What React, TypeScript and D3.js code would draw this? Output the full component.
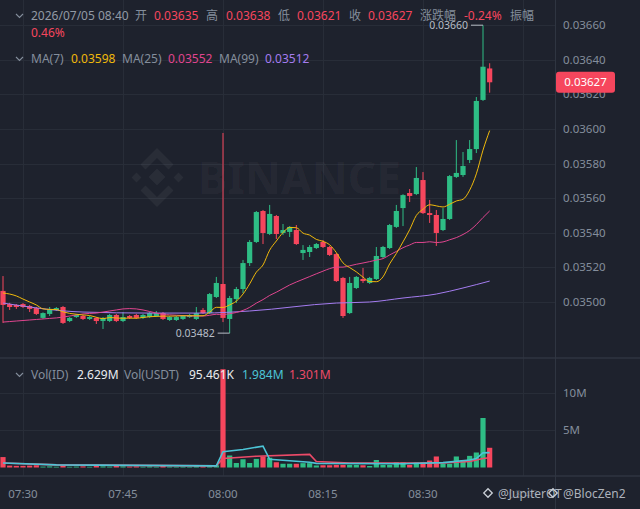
import React, { useEffect, useRef } from "react";
import * as d3 from "d3";

const W = 640;
const H = 509;
const BG = "#1e222d";
const GRID = "#282d38";
const SEP = "#2f3541";
const UP = "#2ebd85";
const DOWN = "#f6465d";
const LABEL = "#848e9c";
const FONT = "'Noto Sans', 'Noto Sans CJK SC', sans-serif";

// 1-minute candles, first one at 07:27
const firstCandle = "07:27";

const opens = [
  0.035064, 0.034988, 0.034983, 0.034988, 0.034977, 0.034965, 0.034908, 0.034931, 0.034954, 0.034971,
  0.03489, 0.034913, 0.034919, 0.034902, 0.034908, 0.03489, 0.03489, 0.034925, 0.03489, 0.034919,
  0.034925, 0.034908, 0.034913, 0.034919, 0.034936, 0.034896, 0.034896, 0.034902, 0.034913, 0.034902,
  0.034954, 0.034936, 0.035029, 0.035104, 0.034902, 0.035017, 0.035075, 0.035225, 0.035347, 0.035526,
  0.035393, 0.035497, 0.035399, 0.035405, 0.035416, 0.035283, 0.035289, 0.035312, 0.035347, 0.035318,
  0.035277, 0.035139, 0.034936, 0.035081, 0.035133, 0.03511, 0.035133, 0.03526, 0.035312, 0.035434,
  0.035543, 0.03563, 0.035624, 0.035705, 0.035514, 0.035503, 0.035416, 0.03548, 0.035723, 0.035734,
  0.035821, 0.035884, 0.036168, 0.03635,
];
const highs = [
  0.03515, 0.034995, 0.034988, 0.034994, 0.034983, 0.034971, 0.03494, 0.034971, 0.034971, 0.034977,
  0.034913, 0.034931, 0.034925, 0.034919, 0.034913, 0.034913, 0.034931, 0.034931, 0.034942, 0.034925,
  0.034931, 0.034931, 0.034942, 0.034948, 0.034942, 0.034919, 0.034919, 0.034925, 0.034931, 0.034971,
  0.034965, 0.035052, 0.035145, 0.035977, 0.035035, 0.035087, 0.035243, 0.035358, 0.035526, 0.035532,
  0.035561, 0.035503, 0.035451, 0.035439, 0.035445, 0.035329, 0.035329, 0.035341, 0.035358, 0.035324,
  0.035283, 0.035145, 0.035145, 0.03515, 0.035197, 0.035145, 0.035318, 0.035324, 0.035451, 0.035561,
  0.035623, 0.035653, 0.03578, 0.035751, 0.03559, 0.035532, 0.035543, 0.035734, 0.035936, 0.035867,
  0.035936, 0.036185, 0.0366, 0.03638,
];
const lows = [
  0.034879, 0.034954, 0.03496, 0.034965, 0.034942, 0.034925, 0.034902, 0.034919, 0.034948, 0.034873,
  0.034884, 0.034908, 0.034896, 0.034896, 0.034873, 0.034844, 0.034884, 0.034884, 0.034884, 0.034902,
  0.034902, 0.034902, 0.034908, 0.034913, 0.034896, 0.03489, 0.03489, 0.034896, 0.034908, 0.034896,
  0.034931, 0.034931, 0.035023, 0.034884, 0.03482, 0.034994, 0.035052, 0.035208, 0.035341, 0.035335,
  0.035387, 0.035364, 0.035387, 0.035376, 0.03533, 0.035243, 0.03526, 0.035306, 0.035312, 0.035266,
  0.035116, 0.034908, 0.034931, 0.035075, 0.03511, 0.035104, 0.035127, 0.035254, 0.035306, 0.035428,
  0.035439, 0.035578, 0.035618, 0.035509, 0.035457, 0.035324, 0.03541, 0.035474, 0.035717, 0.035723,
  0.035803, 0.035861, 0.036162, 0.03621,
];
const closes = [
  0.034983, 0.034971, 0.034971, 0.034971, 0.03496, 0.034931, 0.034936, 0.03496, 0.034965, 0.034879,
  0.034908, 0.034925, 0.034902, 0.034913, 0.03489, 0.034908, 0.034925, 0.03489, 0.034913, 0.034908,
  0.034908, 0.034925, 0.034936, 0.034936, 0.034902, 0.034913, 0.034913, 0.034919, 0.034925, 0.034936,
  0.034936, 0.035046, 0.03511, 0.034908, 0.035023, 0.035075, 0.035225, 0.035347, 0.03552, 0.035399,
  0.035509, 0.035393, 0.035416, 0.035434, 0.035335, 0.035301, 0.035318, 0.035335, 0.035318, 0.035272,
  0.035121, 0.034919, 0.03511, 0.035145, 0.035121, 0.035139, 0.035266, 0.035318, 0.035445, 0.035526,
  0.035618, 0.035613, 0.035717, 0.035514, 0.035503, 0.035399, 0.03548, 0.035728, 0.035746, 0.035786,
  0.035884, 0.036162, 0.03636, 0.03627,
];
// volume in millions
const volumes = [
  1.39, 0.25, 0.22, 0.22, 0.25, 0.3, 0.12, 0.15, 0.1, 0.3,
  0.1, 0.12, 0.15, 0.1, 0.2, 0.15, 0.12, 0.2, 0.15, 0.12,
  0.15, 0.1, 0.15, 0.1, 0.2, 0.12, 0.1, 0.12, 0.1, 0.2,
  0.15, 0.25, 0.3, 13.1, 1.6, 0.6, 1.1, 0.6, 1.15, 1.47,
  1.3, 0.7, 0.5, 0.5, 0.5, 0.58, 0.58, 0.27, 0.3, 0.3,
  0.35, 0.35, 0.35, 0.35, 0.3, 0.2, 1.0, 0.35, 0.35, 0.7,
  0.7, 0.35, 0.67, 0.7, 0.93, 1.47, 0.5, 0.5, 1.47, 1.0,
  1.55, 2.0, 6.6, 2.629,
];

// moving-average values before the window is full
const ma7Head = [0.035052, 0.035046, 0.035035, 0.035017, 0.035, 0.034983];
const ma25Head = [
  0.034884, 0.034887, 0.03489, 0.034893, 0.034896, 0.034899, 0.034902, 0.034905, 0.034908, 0.034913,
  0.034919, 0.034925, 0.034931, 0.034934, 0.034936, 0.034942, 0.034948, 0.034954, 0.03496, 0.034962,
  0.03496, 0.034954, 0.034945, 0.034936,
];
const ma99Points = [
  [0, 0.034994], [12, 0.034942], [22, 0.034936], [30, 0.034936], [37, 0.034948], [50, 0.034994],
  [55, 0.035], [60, 0.035023], [65, 0.035046], [69, 0.035081], [73, 0.035121],
];
const volMaFast = [
  [0, 0.6], [8, 0.35], [20, 0.28], [32, 0.22], [33, 2.1], [36, 2.4], [39, 2.85], [40, 1.1],
  [46, 0.7], [47, 0.55], [60, 0.5], [66, 0.65], [70, 1.0], [71, 1.2], [72, 1.95], [73, 1.98],
];
const volMaSlow = [
  [0, 0.6], [8, 0.35], [20, 0.28], [32, 0.22], [33, 1.2], [38, 1.5], [46, 1.75], [47, 0.8],
  [52, 0.6], [66, 0.6], [70, 0.8], [72, 1.2], [73, 1.3],
];

const priceTicks = [0.035, 0.0352, 0.0354, 0.0356, 0.0358, 0.036, 0.0362, 0.0364, 0.0366];
const volTicks = [5, 10];
const timeTicks = ["07:30", "07:45", "08:00", "08:15", "08:30", "08:45"];

const headerRow = [
  ["2026/07/05 08:40", 31, "#929aa5"],
  ["开", 135, LABEL], ["0.03635", 154, DOWN],
  ["高", 206, LABEL], ["0.03638", 226, DOWN],
  ["低", 278, LABEL], ["0.03621", 297, DOWN],
  ["收", 349, LABEL], ["0.03627", 368, DOWN],
  ["涨跌幅", 420, LABEL], ["-0.24%", 464, DOWN],
  ["振幅", 510, LABEL],
];
const maRow = [
  ["MA(7)", 31, LABEL], ["0.03598", 71, "#f0b90b"],
  ["MA(25)", 122, LABEL], ["0.03552", 168, "#e0458f"],
  ["MA(99)", 219, LABEL], ["0.03512", 265, "#a47cf0"],
];
const volRow = [
  ["Vol(ID)", 31, LABEL], ["2.629M", 77, "#eaecef"],
  ["Vol(USDT)", 124, LABEL], ["95.461K", 189, "#eaecef"],
  ["1.984M", 242, "#4cc4d6"], ["1.301M", 289, "#ec4a68"],
];

export default function App() {
  const svgRef = useRef(null);

  useEffect(() => {
    if (!svgRef.current) return;
    const svg = d3.select(svgRef.current);
    svg.selectAll("*").remove();

    const day = (hm) => {
      const [h, m] = hm.split(":").map(Number);
      return new Date(2026, 6, 5, h, m);
    };
    const start = day(firstCandle);
    const t = (i) => d3.timeMinute.offset(start, i);

    const x = d3.scaleTime().domain([day("07:30"), day("08:30")]).range([23, 423]);
    const y = d3.scaleLinear().domain([0.035, 0.0366]).range([302, 25.2]);
    const yv = d3.scaleLinear().domain([0, 10]).range([467.5, 392.5]);
    const cx = (i) => x(t(i));

    svg.append("rect").attr("width", W).attr("height", H).attr("fill", BG);

    // grid
    const grid = svg.append("g").attr("stroke", GRID).attr("stroke-width", 1);
    grid.selectAll(".hp").data(priceTicks).join("line")
      .attr("x1", 0).attr("x2", 555)
      .attr("y1", (d) => Math.round(y(d)) + 0.5).attr("y2", (d) => Math.round(y(d)) + 0.5);
    grid.selectAll(".hv").data(volTicks).join("line")
      .attr("x1", 0).attr("x2", 555)
      .attr("y1", (d) => Math.round(yv(d)) + 0.5).attr("y2", (d) => Math.round(yv(d)) + 0.5);
    grid.selectAll(".vt").data(timeTicks).join("line")
      .attr("x1", (d) => Math.round(x(day(d))) + 0.5).attr("x2", (d) => Math.round(x(day(d))) + 0.5)
      .attr("y1", 0).attr("y2", 476);

    // watermark
    const wm = svg.append("g").attr("fill", "#ffffff").attr("fill-opacity", 0.05);
    wm.append("rect").attr("x", 151).attr("y", 171).attr("width", 12).attr("height", 12)
      .attr("transform", "rotate(45 157 177)");
    wm.append("rect").attr("x", 133).attr("y", 174).attr("width", 7).attr("height", 7)
      .attr("transform", "rotate(45 136.5 177.5)");
    wm.append("rect").attr("x", 175).attr("y", 174).attr("width", 7).attr("height", 7)
      .attr("transform", "rotate(45 178.5 177.5)");
    wm.append("path").attr("d", "M143,167 L157,153 L171,167").attr("fill", "none")
      .attr("stroke", "#ffffff").attr("stroke-opacity", 0.05).attr("stroke-width", 7);
    wm.append("path").attr("d", "M143,188 L157,202 L171,188").attr("fill", "none")
      .attr("stroke", "#ffffff").attr("stroke-opacity", 0.05).attr("stroke-width", 7);
    wm.append("text").attr("x", 198).attr("y", 194).attr("font-family", FONT)
      .attr("font-weight", 700).attr("font-size", 44).attr("textLength", 203)
      .text("BINANCE");

    // panel separators
    const sep = svg.append("g").attr("stroke", SEP).attr("stroke-width", 1.5);
    sep.append("line").attr("x1", 0).attr("x2", W).attr("y1", 358).attr("y2", 358);
    sep.append("line").attr("x1", 0).attr("x2", W).attr("y1", 476).attr("y2", 476);
    sep.append("line").attr("x1", 555.5).attr("x2", 555.5).attr("y1", 0).attr("y2", H).attr("stroke-width", 1);

    const idx = d3.range(closes.length);
    const color = (i) => (closes[i] >= opens[i] ? UP : DOWN);

    // candles
    const candles = svg.append("g").selectAll("g").data(idx).join("g");
    candles.append("line")
      .attr("x1", (i) => cx(i)).attr("x2", (i) => cx(i))
      .attr("y1", (i) => y(highs[i])).attr("y2", (i) => y(lows[i]))
      .attr("stroke", color).attr("stroke-width", 1);
    candles.append("rect")
      .attr("x", (i) => cx(i) - 2.6).attr("width", 5.2)
      .attr("y", (i) => Math.min(y(opens[i]), y(closes[i])))
      .attr("height", (i) => Math.max(1, Math.abs(y(opens[i]) - y(closes[i]))))
      .attr("fill", color);

    // moving averages
    const sma = (n, head) =>
      closes.map((_, i) => (i >= n - 1 ? d3.mean(closes.slice(i - n + 1, i + 1)) : head[i]));
    const ma7 = sma(7, ma7Head);
    const ma25 = sma(25, ma25Head);
    const seriesLine = d3.line().x((d) => cx(d[0])).y((d) => y(d[1])).curve(d3.curveMonotoneX);
    const drawMa = (pts, c) =>
      svg.append("path").attr("d", seriesLine(pts)).attr("fill", "none")
        .attr("stroke", c).attr("stroke-width", 1);
    drawMa(ma99Points, "#a47cf0");
    drawMa(ma25.map((v, i) => [i, v]), "#e0458f");
    drawMa(ma7.map((v, i) => [i, v]), "#f0b90b");

    // volume
    svg.append("g").selectAll("rect").data(idx).join("rect")
      .attr("x", (i) => cx(i) - 2.6).attr("width", 5.2)
      .attr("y", (i) => yv(volumes[i]))
      .attr("height", (i) => yv(0) - yv(volumes[i]))
      .attr("fill", color);
    const volLine = d3.line().x((d) => cx(d[0])).y((d) => yv(d[1]));
    svg.append("path").attr("d", volLine(volMaSlow)).attr("fill", "none")
      .attr("stroke", "#ec4a68").attr("stroke-width", 1.6);
    svg.append("path").attr("d", volLine(volMaFast)).attr("fill", "none")
      .attr("stroke", "#4cc4d6").attr("stroke-width", 1.6);

    // high / low markers
    const hi = 72;
    const lo = 34;
    const mk = svg.append("g").attr("font-family", FONT).attr("font-size", 10.5).attr("fill", "#b7bdc6");
    mk.append("line").attr("x1", cx(hi) - 12).attr("x2", cx(hi)).attr("y1", y(highs[hi])).attr("y2", y(highs[hi]))
      .attr("stroke", "#b7bdc6");
    mk.append("text").attr("x", cx(hi) - 15).attr("y", y(highs[hi])).attr("dy", "0.35em")
      .attr("text-anchor", "end").text(d3.format(".5f")(highs[hi]));
    mk.append("line").attr("x1", cx(lo) - 12).attr("x2", cx(lo)).attr("y1", y(lows[lo])).attr("y2", y(lows[lo]))
      .attr("stroke", "#b7bdc6");
    mk.append("text").attr("x", cx(lo) - 15).attr("y", y(lows[lo])).attr("dy", "0.35em")
      .attr("text-anchor", "end").text(d3.format(".5f")(lows[lo]));

    // price axis
    const axis = svg.append("g").attr("font-family", FONT).attr("font-size", 11.5).attr("fill", LABEL);
    axis.selectAll(".pt").data(priceTicks).join("text")
      .attr("x", 563).attr("y", (d) => y(d)).attr("dy", "0.35em")
      .text((d) => d3.format(".5f")(d));
    axis.selectAll(".vt").data(volTicks).join("text")
      .attr("x", 563).attr("y", (d) => yv(d)).attr("dy", "0.35em")
      .text((d) => `${d}M`);
    axis.selectAll(".tt").data(timeTicks).join("text")
      .attr("x", (d) => x(day(d))).attr("y", 494).attr("dy", "0.35em")
      .attr("text-anchor", "middle")
      .attr("fill-opacity", (d) => (d === "08:45" ? 0.35 : 1))
      .text((d) => d);

    // last price tag
    const last = closes[closes.length - 1];
    svg.append("rect").attr("x", 556).attr("y", y(last) - 10.5).attr("width", 59).attr("height", 21)
      .attr("rx", 3).attr("fill", DOWN);
    svg.append("text").attr("x", 585.5).attr("y", y(last)).attr("dy", "0.36em")
      .attr("text-anchor", "middle").attr("font-family", FONT).attr("font-size", 11.5)
      .attr("fill", "#ffffff").text(d3.format(".5f")(last));

    // legends
    const chevron = (cy) =>
      svg.append("path").attr("d", `M16,${cy - 2} l3.5,3.5 l3.5,-3.5`).attr("fill", "none")
        .attr("stroke", LABEL).attr("stroke-width", 1.1);
    const row = (items, cy) =>
      svg.append("g").attr("font-family", FONT).attr("font-size", 12)
        .selectAll("text").data(items).join("text")
        .attr("x", (d) => d[1]).attr("y", cy).attr("dy", "0.35em")
        .attr("fill", (d) => d[2]).text((d) => d[0]);
    chevron(16);
    row(headerRow, 16);
    row([["0.46%", 31, DOWN]], 33);
    chevron(59);
    row(maRow, 59);
    chevron(375);
    row(volRow, 375);

    // user watermarks (two overlapping stamps)
    const uw = svg.append("g").attr("font-family", FONT).attr("font-size", 12).attr("fill", "#c9ced6");
    [[485, "@JupiterOT"], [550, "@BlocZen2"]].forEach(([px, label]) => {
      uw.append("rect").attr("x", px).attr("y", 490).attr("width", 6).attr("height", 6)
        .attr("transform", `rotate(45 ${px + 3} 493)`).attr("fill", "none")
        .attr("stroke", "#c9ced6").attr("stroke-width", 1.3);
      uw.append("text").attr("x", px + 13).attr("y", 494).attr("dy", "0.35em").attr("fill-opacity", 0.85).text(label);
    });
  }, []);

  return (
    <div style={{ position: "fixed", left: 0, top: 0, width: W, height: H, background: BG }}>
      <svg ref={svgRef} width={W} height={H} style={{ display: "block" }} />
    </div>
  );
}
